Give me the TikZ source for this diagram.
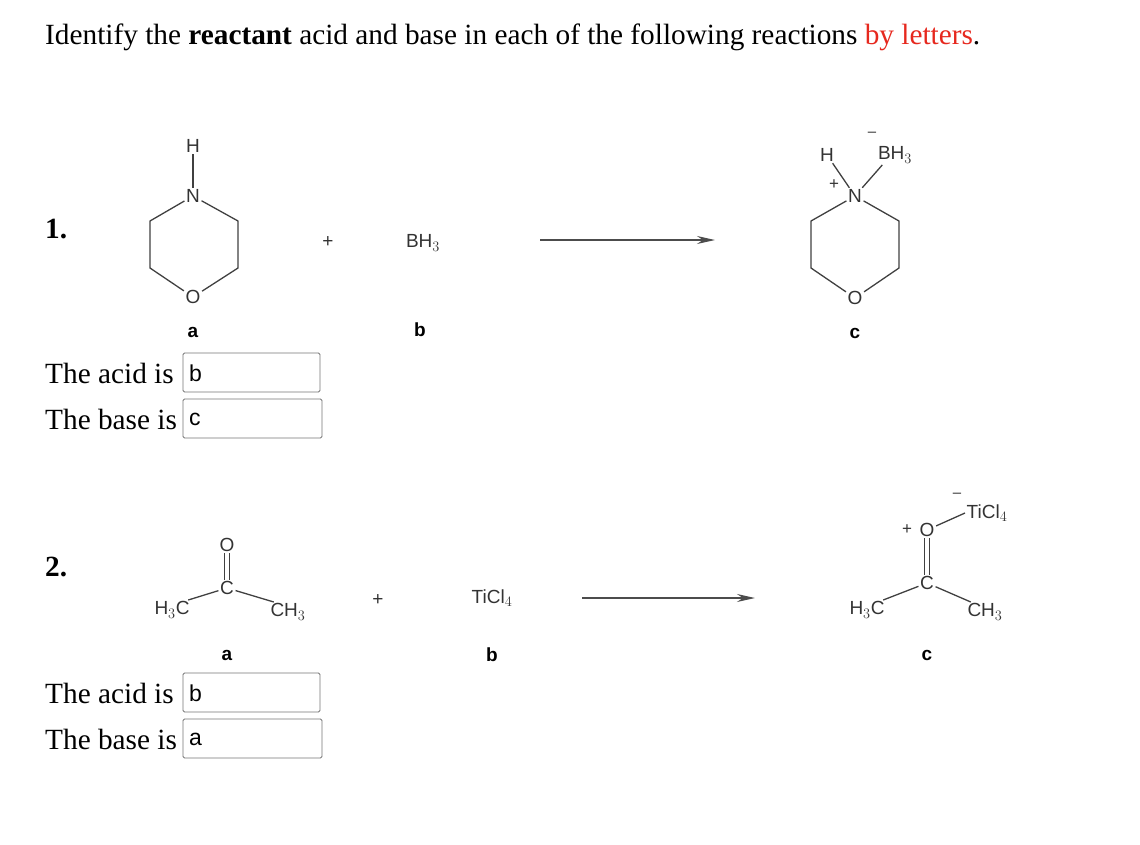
\documentclass[tikz,border=0pt]{standalone}
\usepackage{fontspec}
\setmainfont{Liberation Serif}
\setsansfont{Liberation Sans}
\usetikzlibrary{arrows.meta}
\definecolor{redtxt}{RGB}{230,40,30}
\begin{document}
\begin{tikzpicture}[x=1pt,y=-1pt,
  atm/.style={font=\sffamily\fontsize{19}{21}\selectfont,inner sep=1.5pt,text=black!80},
  lbl/.style={font=\sffamily\bfseries\fontsize{19}{21}\selectfont,inner sep=0pt},
  txt/.style={font=\fontsize{29.3}{33}\selectfont,inner sep=0pt,anchor=west},
  bond/.style={draw=black!75,line width=1.3pt},
  rxn/.style={draw=black!70,line width=1.3pt,-{Stealth[length=18pt,width=8pt]}},
  ansbox/.style={draw=black!55,rounded corners=1.5pt,line width=0.9pt},
  anstxt/.style={font=\sffamily\fontsize{23}{26}\selectfont,inner sep=0pt,anchor=west}]
\useasboundingbox (0,0) rectangle (1140,844);
\node[txt] (title) at (45,37) {Identify the \textbf{reactant} acid and base in each of the following reactions \textcolor{redtxt}{by letters}.};

% ---------- reaction 1
\node[txt] (n1) at (45,229) {\textbf{1.}};
\node[atm] (aH) at (193,146) {H};
\node[atm] (aN) at (193,196) {N};
\node[atm] (aO) at (193,297) {O};
\coordinate (a1) at (238,221); \coordinate (a2) at (238,268);
\coordinate (a3) at (150,268); \coordinate (a4) at (150,221);
\draw[bond] (aH) -- (aN);
\draw[bond] (aN) -- (a1) -- (a2) -- (aO) -- (a3) -- (a4) -- (aN);
\node[lbl] (la) at (193,332) {a};
\node[atm] (p1) at (328,242) {+};
\node[atm] (bBH) at (423,243) {BH$_3$};
\node[lbl] (lb) at (420,330) {b};
\coordinate (r1s) at (540,240); \coordinate (r1e) at (715,240);
\draw[rxn] (r1s) -- (r1e);
\node[atm] (cH) at (827,155) {H};
\node[atm] (cB) at (895,155) {BH$_3$};
\node[atm,font=\sffamily\fontsize{15}{15}\selectfont] (cm) at (872,134) {--};
\node[atm] (cN) at (855,196) {N};
\node[atm,font=\sffamily\fontsize{17}{17}\selectfont] (cp) at (834,185) {+};
\node[atm] (cO) at (855,298) {O};
\coordinate (c1) at (899,221); \coordinate (c2) at (899,268);
\coordinate (c3) at (811,268); \coordinate (c4) at (811,221);
\draw[bond] (cH) -- (cN); \draw[bond] (cB.south west) ++(6,0) -- (cN);
\draw[bond] (cN) -- (c1) -- (c2) -- (cO) -- (c3) -- (c4) -- (cN);
\node[lbl] (lc) at (855,333) {c};
\node[txt] (acid1) at (45,373) {The acid is};
\draw[ansbox] (183,353) rectangle (320,392);
\node[anstxt] (v1) at (189,373) {b};
\node[txt] (base1) at (45,419) {The base is};
\draw[ansbox] (183,399) rectangle (322,438);
\node[anstxt] (v2) at (189,419) {c};

% ---------- reaction 2
\node[txt] (n2) at (45,567) {\textbf{2.}};
\node[atm] (kO) at (227,545) {O};
\node[atm] (kC) at (227,588) {C};
\node[atm] (kL) at (172,610) {H$_3$C};
\node[atm] (kR) at (288,612) {CH$_3$};
\draw[bond] ([xshift=-2.5pt]kO.south) -- ([xshift=-2.5pt]kC.north);
\draw[bond] ([xshift=2.5pt]kO.south) -- ([xshift=2.5pt]kC.north);
\draw[bond] (kC) -- ([xshift=-3pt]kL.north east);
\draw[bond] (kC) -- ([xshift=5pt]kR.north west);
\node[lbl] (la2) at (227,655) {a};
\node[atm] (p2) at (378,600) {+};
\node[atm] (tT) at (492,598) {TiCl$_4$};
\node[lbl] (lb2) at (492,655) {b};
\coordinate (r2s) at (582,598); \coordinate (r2e) at (755,598);
\draw[rxn] (r2s) -- (r2e);
\node[atm] (pO) at (927,530) {O};
\node[atm,font=\sffamily\fontsize{17}{17}\selectfont] (pp) at (907,530) {+};
\node[atm] (pT) at (987,513) {TiCl$_4$};
\node[atm,font=\sffamily\fontsize{15}{15}\selectfont] (pm) at (957,495) {--};
\node[atm] (pC) at (927,583) {C};
\node[atm] (pL) at (867,610) {H$_3$C};
\node[atm] (pR) at (985,612) {CH$_3$};
\draw[bond] ([xshift=-2.5pt]pO.south) -- ([xshift=-2.5pt]pC.north);
\draw[bond] ([xshift=2.5pt]pO.south) -- ([xshift=2.5pt]pC.north);
\draw[bond] (pO) -- (pT.west);
\draw[bond] (pC) -- ([xshift=-3pt]pL.north east);
\draw[bond] (pC) -- ([xshift=5pt]pR.north west);
\node[lbl] (lc2) at (927,655) {c};
\node[txt] (acid2) at (45,693) {The acid is};
\draw[ansbox] (183,673) rectangle (320,712);
\node[anstxt] (v3) at (189,693) {b};
\node[txt] (base2) at (45,739) {The base is};
\draw[ansbox] (183,719) rectangle (322,758);
\node[anstxt] (v4) at (189,739) {a};
\end{tikzpicture}
\end{document}
